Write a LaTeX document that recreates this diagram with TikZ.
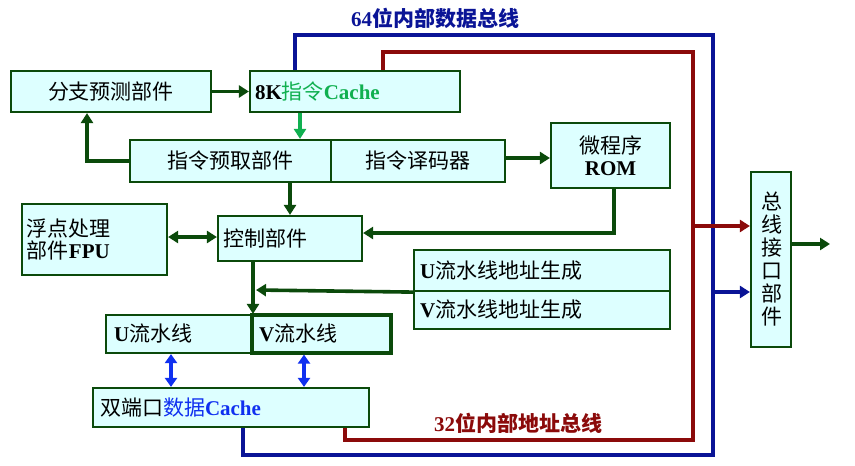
\documentclass[tikz,border=0pt]{standalone}
\usepackage{fontspec}
\setmainfont{Liberation Serif}
\newfontfamily\cjk{Noto Sans CJK SC}
\usetikzlibrary{arrows.meta}
\definecolor{bx}{HTML}{DDFFFF}
\definecolor{dg}{HTML}{0B4A0B}
\definecolor{lg}{HTML}{10B050}
\definecolor{bb}{HTML}{0A1496}
\definecolor{rr}{HTML}{8B0A0A}
\definecolor{vb}{HTML}{1030F0}
\newcommand{\LB}[1]{{\rmfamily\bfseries #1}}
\begin{document}
\begin{tikzpicture}[x=1pt,y=-1pt,
 box/.style={draw=dg,line width=2.2pt,fill=bx,inner sep=0pt,font=\cjk\fontsize{21}{24}\selectfont},
 gar/.style={draw=dg,line width=3.6pt,-{Triangle[length=10pt,width=12pt]}},
 gln/.style={draw=dg,line width=3.6pt},
 bus/.style={line width=3.4pt}]
\useasboundingbox (0,0) rectangle (855,466);
% boxes
\node[box,minimum width=200pt,minimum height=41pt] (bp) at (111,91.5) {分支预测部件};
\node[box,minimum width=210pt,minimum height=41pt,text width=200pt] (ic) at (355,91.5) {\LB{8K}\textcolor{lg}{指令\LB{Cache}}};
\node[box,minimum width=201pt,minimum height=42pt] (pf) at (230.5,161) {指令预取部件};
\node[box,minimum width=174pt,minimum height=42pt] (dc) at (418,161) {指令译码器};
\node[box,minimum width=119pt,minimum height=65pt,align=center] (rom) at (610.5,155.5) {微程序\\[-2pt]\LB{ROM}};
\node[box,minimum width=145pt,minimum height=71pt,text width=135pt,align=left] (fpu) at (94.5,239.5) {浮点处理\\[-2pt]部件\LB{FPU}};
\node[box,minimum width=144pt,minimum height=45pt,text width=134pt] (cu) at (290,238.5) {控制部件};
\node[box,minimum width=256pt,minimum height=41pt,text width=244pt] (ua) at (542,270.5) {\LB{U}流水线地址生成};
\node[box,minimum width=256pt,minimum height=38pt,text width=244pt] (va) at (542,310) {\LB{V}流水线地址生成};
\node[box,minimum width=146pt,minimum height=38pt,text width=130pt] (up) at (179,334) {\LB{U}流水线};
\node[box,line width=3.2pt,minimum width=139pt,minimum height=38pt,text width=125pt] (vp) at (321.5,334) {\LB{V}流水线};
\node[box,minimum width=276pt,minimum height=39pt,text width=262pt] (dd) at (231,407.5) {双端口\textcolor{vb}{数据\LB{Cache}}};
\node[box,minimum width=40pt,minimum height=175pt,text width=20pt,align=center] (bi) at (771,259.5) {总\\[-1pt]线\\[-1pt]接\\[-1pt]口\\[-1pt]部\\[-1pt]件};
% coordinates for buses
\coordinate (b1) at (295,35); \coordinate (b2) at (713,35); \coordinate (b3) at (713,455); \coordinate (b4) at (243,455);
\coordinate (r1) at (383,52); \coordinate (r2) at (693,52); \coordinate (r3) at (693,440); \coordinate (r4) at (345,440);
\draw[bus,bb] (ic.north -| b1) -- (b1) -- (b2) -- (b3) -- (b4) -- (dd.south -| b4);
\draw[bus,rr] (ic.north -| r1) -- (r1) -- (r2) -- (r3) -- (r4) -- (dd.south -| r4);
\coordinate (bt) at (713,292); \coordinate (rt) at (693,226);
\draw[bus,bb,-{Triangle[length=10pt,width=12pt]}] (bt) -- (bt -| bi.west);
\draw[bus,rr,-{Triangle[length=10pt,width=12pt]}] (rt) -- (rt -| bi.west);
\node[text=bb,font=\cjk\fontsize{21}{24}\bfseries\selectfont] (l64) at (435,18) {\LB{64}位内部数据总线};
\node[text=rr,font=\cjk\fontsize{21}{24}\bfseries\selectfont] (l32) at (518,423) {\LB{32}位内部地址总线};
% green connectors
\draw[gar] (bp.east) -- (ic.west);
\draw[draw=lg,line width=3.6pt,-{Triangle[length=10pt,width=12pt]}] (ic.south -| 300,0) -- (pf.north -| 300,0);
\coordinate (p1) at (87,161);
\draw[gar] (pf.west) -- (p1) -- (bp.south -| p1);
\draw[gar] (pf.south -| 290,0) -- (cu.north -| 290,0);
\draw[gar] (dc.east |- 0,158) -- (rom.west |- 0,158);
\coordinate (m1) at (614,233);
\draw[gar] (rom.south -| m1) -- (m1) -- (m1 -| cu.east);
\draw[gln,{Triangle[length=10pt,width=12pt]}-{Triangle[length=10pt,width=12pt]}] (fpu.east |- 0,237) -- (cu.west |- 0,237);
\draw[gar] (cu.south -| 253,0) -- (up.north -| 253,0);
\coordinate (a1) at (256,290);
\draw[gar] (ua.south west) -- (a1);
\coordinate (o1) at (830,244);
\draw[gar] (bi.east |- o1) -- (o1);
% blue double arrows
\draw[vb,line width=3.4pt,{Triangle[length=9pt,width=12pt]}-{Triangle[length=9pt,width=12pt]}] (up.south -| 171,0) -- (dd.north -| 171,0);
\draw[vb,line width=3.4pt,{Triangle[length=9pt,width=12pt]}-{Triangle[length=9pt,width=12pt]}] (vp.south -| 304,0) -- (dd.north -| 304,0);
\end{tikzpicture}
\end{document}
